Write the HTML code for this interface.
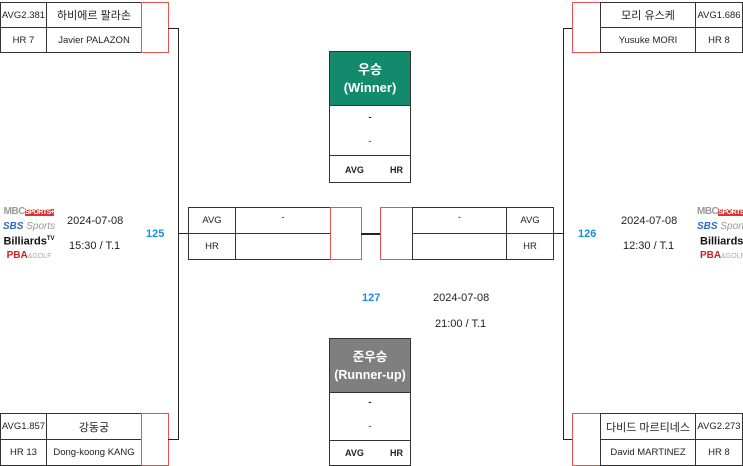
<!DOCTYPE html>
<html><head><meta charset="utf-8"><style>
body{margin:0;width:743px;height:466px;background:#fff;position:relative;overflow:hidden;font-family:"Liberation Sans","Noto Sans CJK KR",sans-serif;font-size:9.5px;color:#222}
.a{position:absolute;box-sizing:border-box;white-space:nowrap}
.c{display:flex;align-items:center;justify-content:center;text-align:center}
.b{border:1px solid #333}
.r{border:1px solid #f05050}
.l{position:absolute;background:#222}
.blue{color:#1a8fd8;font-weight:bold;font-size:11px}
.t{font-size:11px}
.logo{font-size:10px;line-height:13.5px;font-weight:bold}
</style></head><body>
<!-- top-left -->
<div class="a b c" style="left:0;top:2px;width:47px;height:26px">AVG2.381</div>
<div class="a b c t" style="left:46px;top:2px;width:96px;height:26px">하비에르 팔라손</div>
<div class="a b c" style="left:0;top:27px;width:47px;height:26px">HR 7</div>
<div class="a b c" style="left:46px;top:27px;width:96px;height:26px">Javier PALAZON</div>
<div class="a r" style="left:141px;top:2px;width:28px;height:51px"></div>
<!-- bottom-left -->
<div class="a b c" style="left:0;top:413px;width:47px;height:27px">AVG1.857</div>
<div class="a b c t" style="left:46px;top:413px;width:96px;height:27px">강동궁</div>
<div class="a b c" style="left:0;top:439px;width:47px;height:27px">HR 13</div>
<div class="a b c" style="left:46px;top:439px;width:96px;height:27px">Dong-koong KANG</div>
<div class="a r" style="left:141px;top:413px;width:28px;height:53px"></div>
<!-- left connectors -->
<div class="l" style="left:168px;top:28px;width:11px;height:1px"></div>
<div class="l" style="left:178px;top:28px;width:1px;height:412px"></div>
<div class="l" style="left:168px;top:439px;width:11px;height:1px"></div>
<div class="l" style="left:178px;top:233px;width:11px;height:1px"></div>
<!-- left middle -->
<div class="a b c" style="left:188px;top:207px;width:48px;height:27px">AVG</div>
<div class="a b" style="left:235px;top:207px;width:96px;height:27px;text-align:center;padding-top:4px">-</div>
<div class="a b c" style="left:188px;top:233px;width:48px;height:27px">HR</div>
<div class="a b" style="left:235px;top:233px;width:96px;height:27px"></div>
<div class="a r" style="left:330px;top:207px;width:32px;height:53px"></div>
<div class="l" style="left:361px;top:233px;width:20px;height:2px"></div>
<!-- right middle -->
<div class="a r" style="left:380px;top:207px;width:33px;height:53px"></div>
<div class="a b" style="left:412px;top:207px;width:95px;height:27px;text-align:center;padding-top:4px">-</div>
<div class="a b c" style="left:506px;top:207px;width:48px;height:27px">AVG</div>
<div class="a b" style="left:412px;top:233px;width:95px;height:27px"></div>
<div class="a b c" style="left:506px;top:233px;width:48px;height:27px">HR</div>
<!-- right connectors -->
<div class="l" style="left:553px;top:233px;width:11px;height:1px"></div>
<div class="l" style="left:563px;top:28px;width:1px;height:412px"></div>
<div class="l" style="left:563px;top:28px;width:10px;height:1px"></div>
<div class="l" style="left:563px;top:439px;width:10px;height:1px"></div>
<!-- top-right -->
<div class="a r" style="left:572px;top:2px;width:29px;height:51px"></div>
<div class="a b c t" style="left:600px;top:2px;width:96px;height:26px">모리 유스케</div>
<div class="a b c" style="left:695px;top:2px;width:48px;height:26px">AVG1.686</div>
<div class="a b c" style="left:600px;top:27px;width:96px;height:26px">Yusuke MORI</div>
<div class="a b c" style="left:695px;top:27px;width:48px;height:26px">HR 8</div>
<!-- bottom-right -->
<div class="a r" style="left:572px;top:413px;width:29px;height:53px"></div>
<div class="a b c t" style="left:600px;top:413px;width:96px;height:27px">다비드 마르티네스</div>
<div class="a b c" style="left:695px;top:413px;width:48px;height:27px">AVG2.273</div>
<div class="a b c" style="left:600px;top:439px;width:96px;height:27px">David MARTINEZ</div>
<div class="a b c" style="left:695px;top:439px;width:48px;height:27px">HR 8</div>
<!-- winner -->
<div class="a b c" style="left:329px;top:51px;width:82px;height:55px;background:#138a6c;color:#fff;font-size:13px;font-weight:bold;line-height:18px">우승<br>(Winner)</div>
<div class="a b" style="left:329px;top:105px;width:82px;height:51px;text-align:center"><div style="margin-top:6px;font-weight:bold">-</div><div style="margin-top:13px">-</div></div>
<div class="a b" style="left:329px;top:155px;width:82px;height:28px;font-weight:bold;font-size:9px"><span style="position:absolute;left:15px;top:9px">AVG</span><span style="position:absolute;left:60px;top:9px">HR</span></div>
<!-- runner-up -->
<div class="a b c" style="left:329px;top:338px;width:82px;height:55px;background:#7f7f7f;color:#fff;font-size:12.5px;font-weight:bold;line-height:18px">준우승<br>(Runner-up)</div>
<div class="a b" style="left:329px;top:392px;width:82px;height:49px;text-align:center"><div style="margin-top:4px;font-weight:bold">-</div><div style="margin-top:13px">-</div></div>
<div class="a b" style="left:329px;top:440px;width:82px;height:26px;font-weight:bold;font-size:9px"><span style="position:absolute;left:15px;top:7px">AVG</span><span style="position:absolute;left:60px;top:7px">HR</span></div>
<!-- dates -->
<div class="a t" style="left:67px;top:215px">2024-07-08</div>
<div class="a t" style="left:69px;top:240px">15:30 / T.1</div>
<div class="a blue" style="left:146px;top:228px">125</div>
<div class="a t" style="left:621px;top:215px">2024-07-08</div>
<div class="a t" style="left:623px;top:240px">12:30 / T.1</div>
<div class="a blue" style="left:578px;top:228px">126</div>
<div class="a t" style="left:433px;top:292px">2024-07-08</div>
<div class="a t" style="left:435px;top:318px">21:00 / T.1</div>
<div class="a blue" style="left:362px;top:292px">127</div>
<!-- logos -->
<div class="a logo" style="left:0;top:205px;width:58px;text-align:center">
<div style="color:#999;letter-spacing:-0.5px">MBC<span style="background:#d33;color:#fff;font-size:7px">SPORTS+</span></div>
<div style="color:#2a6ad0;font-style:italic">SBS <span style="color:#999;font-weight:normal">Sports</span></div>
<div style="color:#111;font-size:11px">Billiards<sup style="font-size:6px">TV</sup></div>
<div style="color:#c22">PBA<span style="color:#aaa;font-size:7px;font-weight:normal">&amp;GOLF</span></div>
</div>
<div class="a logo" style="left:697px;top:205px;width:60px;text-align:left">
<div style="color:#999;letter-spacing:-0.5px">MBC<span style="background:#d33;color:#fff;font-size:7px">SPORTS+</span></div>
<div style="color:#2a6ad0;font-style:italic">SBS <span style="color:#999;font-weight:normal">Sports</span></div>
<div style="color:#111;font-size:11px;margin-left:3px">Billiards<sup style="font-size:6px">TV</sup></div>
<div style="color:#c22;margin-left:3px">PBA<span style="color:#aaa;font-size:7px;font-weight:normal">&amp;GOLF</span></div>
</div>
</body></html>
